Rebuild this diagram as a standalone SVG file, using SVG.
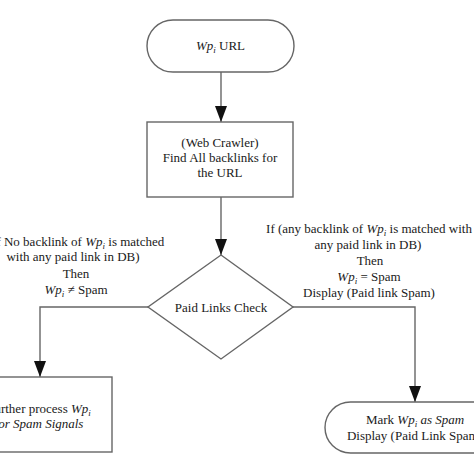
<svg xmlns="http://www.w3.org/2000/svg" width="474" height="474" viewBox="0 0 474 474">
<style>
.s{fill:#fff;stroke:#666;stroke-width:1.4}
.c{fill:none;stroke:#666;stroke-width:1.4}
text{font-family:"Liberation Serif","Times New Roman",serif;font-size:13px;fill:#1a1a1a;text-anchor:middle}
.i{font-style:italic}
</style>
<defs>
<marker id="ah" viewBox="0 0 16 12" refX="16" refY="6" markerWidth="16" markerHeight="12" markerUnits="userSpaceOnUse" orient="auto">
<path d="M0,0 L16,6 L0,12 Z" fill="#111"/>
</marker>
</defs>
<rect width="474" height="474" fill="#fff"/>
<g id="connectors">
<line class="c" x1="221" y1="72" x2="221" y2="122" marker-end="url(#ah)"/>
<line class="c" x1="221" y1="197" x2="221" y2="255" marker-end="url(#ah)"/>
<polyline class="c" points="148,307 40,307 40,377" marker-end="url(#ah)"/>
<polyline class="c" points="293,307 415,307 415,402" marker-end="url(#ah)"/>
</g>
<g id="start">
<rect class="s" x="147" y="20" width="147" height="52" rx="26"/>
<text x="220.5" y="50"><tspan class="i">Wp</tspan><tspan class="i" font-size="9" dy="3">i</tspan><tspan dy="-3"> URL</tspan></text>
</g>
<g id="crawler">
<rect class="s" x="147" y="122" width="146" height="75"/>
<text x="220" y="147">(Web Crawler)</text>
<text x="220" y="162">Find All backlinks for</text>
<text x="220" y="177">the URL</text>
</g>
<g id="check">
<polygon class="s" points="221,255 293,307 221,359 148,307"/>
<text x="221" y="312">Paid Links Check</text>
</g>
<g id="label-no">
<text x="76" y="246">(If No backlink of <tspan class="i">Wp</tspan><tspan class="i" font-size="9" dy="3">i</tspan><tspan dy="-3"> is matched</tspan></text>
<text x="73" y="261">with any paid link in DB)</text>
<text x="76" y="278">Then</text>
<text x="76" y="294"><tspan class="i">Wp</tspan><tspan class="i" font-size="9" dy="3">i</tspan><tspan dy="-3"> ≠ Spam</tspan></text>
</g>
<g id="label-yes">
<text x="369" y="233">If (any backlink of <tspan class="i">Wp</tspan><tspan class="i" font-size="9" dy="3">i</tspan><tspan dy="-3"> is matched with</tspan></text>
<text x="368" y="249">any paid link in DB)</text>
<text x="370" y="265">Then</text>
<text x="369" y="281"><tspan class="i">Wp</tspan><tspan class="i" font-size="9" dy="3">i</tspan><tspan dy="-3"> = Spam</tspan></text>
<text x="369" y="297">Display (Paid link Spam)</text>
</g>
<g id="further">
<rect class="s" x="-34" y="377" width="146" height="75"/>
<text x="39" y="413">Further process <tspan class="i">Wp</tspan><tspan class="i" font-size="9" dy="3">i</tspan></text>
<text x="39" y="428" class="i">for Spam Signals</text>
</g>
<g id="mark">
<rect class="s" x="325" y="402" width="180" height="51" rx="25.5"/>
<text x="415" y="424">Mark <tspan class="i">Wp</tspan><tspan class="i" font-size="9" dy="3">i</tspan><tspan class="i" dy="-3"> as Spam</tspan></text>
<text x="415" y="440">Display (Paid Link Spam)</text>
</g>
</svg>
